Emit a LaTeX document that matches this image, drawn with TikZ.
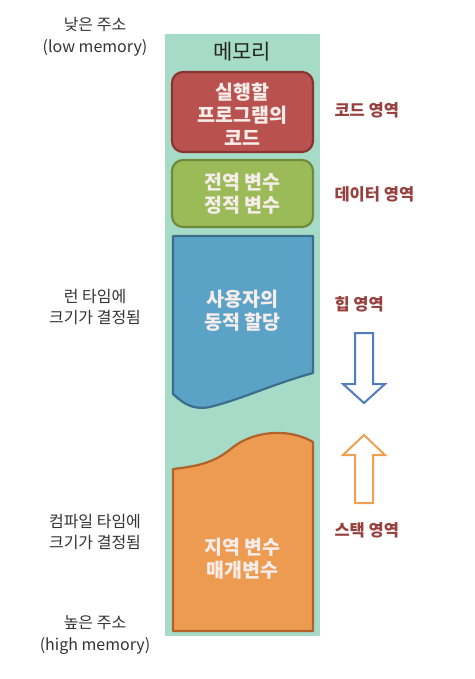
\documentclass[tikz,border=0pt]{standalone}
\usepackage{fontspec}
\setmainfont{Noto Sans CJK KR}
\definecolor{colbg}{HTML}{A6DBC8}
\definecolor{redfill}{HTML}{B9524E}
\definecolor{redline}{HTML}{8A3431}
\definecolor{grnfill}{HTML}{9BBB59}
\definecolor{grnline}{HTML}{6F8B3A}
\definecolor{bluefill}{HTML}{5AA3C6}
\definecolor{blueline}{HTML}{3C6E8C}
\definecolor{orgfill}{HTML}{EE9B52}
\definecolor{orgline}{HTML}{B0622A}
\definecolor{labred}{HTML}{98403D}
\definecolor{boxtext}{HTML}{F6ECEA}
\definecolor{arrblue}{HTML}{4F7DC0}
\definecolor{arrorg}{HTML}{F0A050}
\begin{document}
\begin{tikzpicture}[x=1pt,y=-1pt,
  lefttext/.style={text=black!80, align=center, font=\fontsize{16}{21.5}\selectfont},
  righttext/.style={text=labred, anchor=west, font=\fontsize{16.5}{18}\selectfont\bfseries},
  boxtxt/.style={text=boxtext, align=center, font=\fontsize{19.5}{23}\selectfont\bfseries},
  memrect/.style={rounded corners=11pt, line width=2.2pt}]
\useasboundingbox (0,0) rectangle (474,679);
% background column
\fill[colbg] (165,34) rectangle (320,636);
\node[font=\fontsize{21}{24}\selectfont, text=black!85] (mem) at (242,52) {메모리};
% code box
\node[memrect, draw=redline, fill=redfill, minimum width=141pt, minimum height=80pt, inner sep=0pt] (code) at (242.5,112) {};
\node[boxtxt] (codet) at (242.5,114) {실행할\\프로그램의\\코드};
% data box
\node[memrect, draw=grnline, fill=grnfill, minimum width=141pt, minimum height=67pt, inner sep=0pt] (data) at (242.5,193.5) {};
\node[boxtxt] (datat) at (data.center) {전역 변수\\정적 변수};
% heap shape
\draw[line width=2.2pt, draw=blueline, fill=bluefill, line join=round]
  (173,236) -- (313,236) -- (313,373)
  .. controls (270,385) and (245,398) .. (210,407)
  .. controls (190,411) and (180,400) .. (173,394) -- cycle;
\node[boxtxt] (heapt) at (242.5,311) {사용자의\\동적 할당};
% stack shape
\draw[line width=2.2pt, draw=orgline, fill=orgfill, line join=round]
  (173,631) -- (173,469)
  .. controls (200,466) and (215,462) .. (232,448)
  .. controls (250,433) and (285,426) .. (313,442) -- (313,631) -- cycle;
\node[boxtxt] (stackt) at (242.5,559) {지역 변수\\매개변수};
% right labels
\node[righttext] (lcode) at (331,110) {코드 영역};
\node[righttext] (ldata) at (331,194) {데이터 영역};
\node[righttext] (lheap) at (331,304) {힙 영역};
\node[righttext] (lstack) at (331,530) {스택 영역};
% arrows
\draw[line width=2pt, draw=arrblue, fill=white, line join=miter]
  (355,333) -- (373,333) -- (373,384) -- (385,384) -- (364,403) -- (343,384) -- (355,384) -- cycle;
\draw[line width=2pt, draw=arrorg, fill=white, line join=miter]
  (355,503) -- (373,503) -- (373,455) -- (385,455) -- (364,435) -- (343,455) -- (355,455) -- cycle;
% left labels
\node[lefttext] (low) at (95,37) {낮은 주소\\(low memory)};
\node[lefttext] (run) at (95,307) {런 타임에\\크기가 결정됨};
\node[lefttext] (comp) at (95,532) {컴파일 타임에\\크기가 결정됨};
\node[lefttext] (high) at (95,635) {높은 주소\\(high memory)};
\end{tikzpicture}
\end{document}
